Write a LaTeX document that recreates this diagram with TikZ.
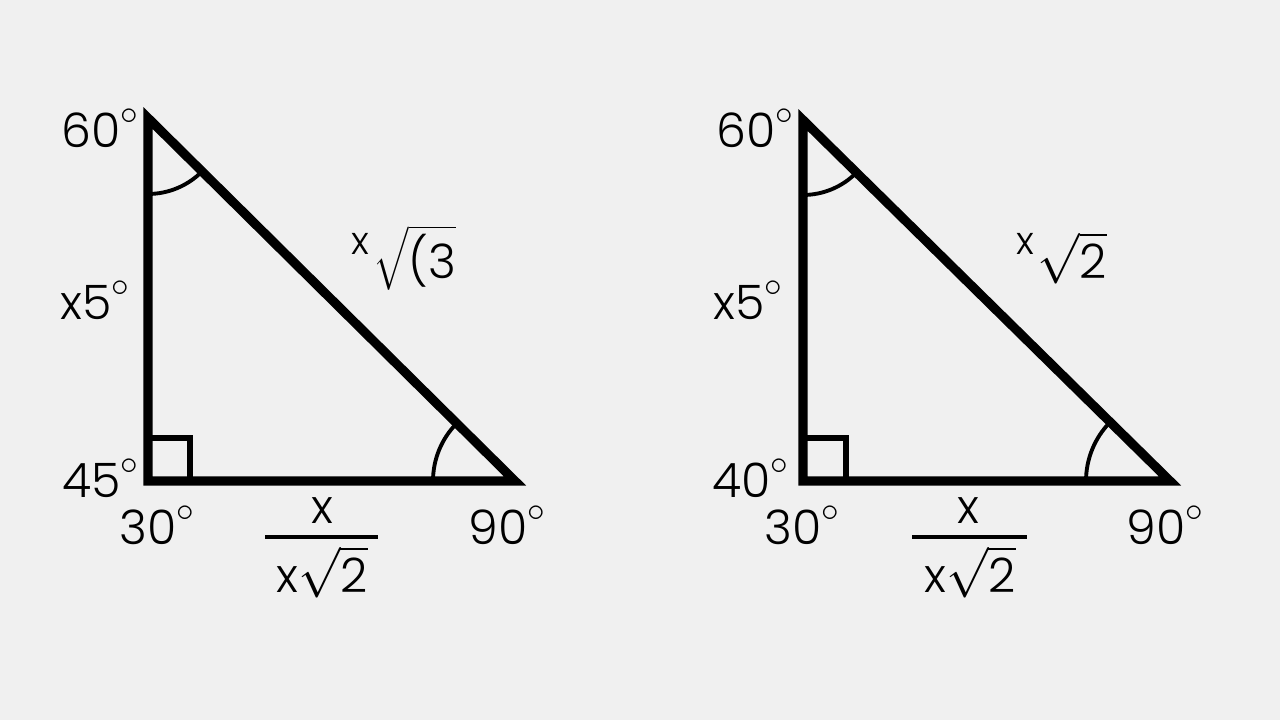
\documentclass[tikz,border=0pt]{standalone}
\usepackage{fontspec}
\setmainfont{Poppins}[UprightFont={* Light}]
\definecolor{paper}{RGB}{240,240,240}
\newcommand{\dg}{\raisebox{0.48em}{\fontsize{10}{10}\selectfont$\circ$}}
\tikzset{
    tri/.style={line width=2.6pt, line join=miter},
    angarc/.style={line width=1.1pt},
    rbox/.style={line width=1.5pt},
    lbl/.style={font=\fontsize{13.5}{15}\selectfont, inner sep=0pt}
}
\begin{document}
\begin{tikzpicture}
    \fill[paper] (0,0) rectangle (12.8,7.2);
    \useasboundingbox (0,0) rectangle (12.8,7.2);

    % left triangle
    \begin{scope}
        \coordinate (lA) at (1.48,6.02);
        \coordinate (lB) at (1.48,2.39);
        \coordinate (lC) at (5.15,2.39);
        \draw[rbox] (lB) ++(0,0.43) -| ++(0.42,-0.43);
        \draw[angarc] (lA) ++(0,-0.76) arc[start angle=270, end angle=315.3, radius=0.76];
        \draw[angarc] (lC) ++(-0.82,0) arc[start angle=180, end angle=135.3, radius=0.82];
        \draw[tri] (lA) -- (lB) -- (lC) -- cycle;
        \node[lbl] (l60) at (1.00,5.92) {60\dg};
        \node[lbl] (lx5) at (0.95,4.20) {x5\dg};
        \node[lbl] (l45) at (1.00,2.42) {45\dg};
        \node[lbl] (l30) at (1.57,1.95) {30\dg};
        \node[lbl] (l90) at (5.07,1.95) {90\dg};
        \node[lbl] (lnum) at (3.22,2.09) {x};
        \coordinate (lbar1) at (2.65,1.83);
        \coordinate (lbar2) at (3.78,1.83);
        \draw[line width=0.9pt] (lbar1) -- (lbar2);
        \node[lbl] (lden) at (3.22,1.48) {x$\sqrt{\mbox{2}}$};
        \node[lbl, font=\fontsize{11}{13}\selectfont] (lhx) at (3.60,4.76) {x};
        \node[lbl] (lhyp) at (4.15,4.62) {$\sqrt{\mbox{(3}}$};
    \end{scope}

    % right triangle
    \begin{scope}
        \coordinate (rA) at (8.03,6.00);
        \coordinate (rB) at (8.03,2.39);
        \coordinate (rC) at (11.70,2.39);
        \draw[rbox] (rB) ++(0,0.43) -| ++(0.43,-0.43);
        \draw[angarc] (rA) ++(0,-0.75) arc[start angle=270, end angle=315.5, radius=0.75];
        \draw[angarc] (rC) ++(-0.84,0) arc[start angle=180, end angle=135.5, radius=0.84];
        \draw[tri] (rA) -- (rB) -- (rC) -- cycle;
        \node[lbl] (r60) at (7.55,5.92) {60\dg};
        \node[lbl] (rx5) at (7.48,4.20) {x5\dg};
        \node[lbl] (r40) at (7.50,2.42) {40\dg};
        \node[lbl] (r30) at (8.02,1.95) {30\dg};
        \node[lbl] (r90) at (11.65,1.95) {90\dg};
        \node[lbl] (rnum) at (9.68,2.09) {x};
        \coordinate (rbar1) at (9.12,1.83);
        \coordinate (rbar2) at (10.27,1.83);
        \draw[line width=0.9pt] (rbar1) -- (rbar2);
        \node[lbl] (rden) at (9.70,1.48) {x$\sqrt{\mbox{2}}$};
        \node[lbl, font=\fontsize{11}{13}\selectfont] (rhx) at (10.25,4.76) {x};
        \node[lbl] (rhyp) at (10.72,4.62) {$\sqrt{\mbox{2}}$};
    \end{scope}
\end{tikzpicture}
\end{document}
